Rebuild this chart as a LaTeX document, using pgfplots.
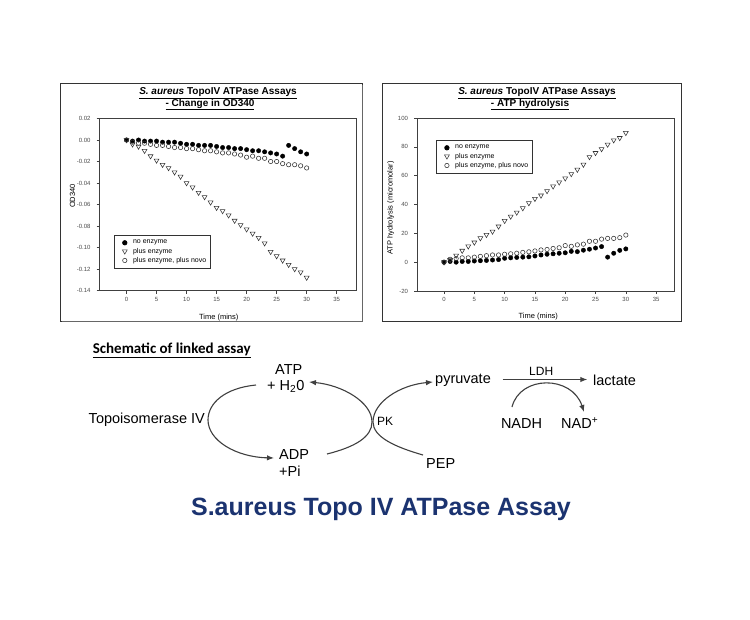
\documentclass[border=0pt]{standalone}
\usepackage{pgfplots}
\pgfplotsset{compat=1.18}
\usepackage{fontspec}
\setmainfont{Liberation Sans}
\newfontfamily\carlito{Carlito}
\usetikzlibrary{arrows.meta}
\definecolor{navy}{HTML}{1B3370}
\newcommand{\fs}[1]{\fontsize{#1}{#1}\selectfont}

\pgfplotstableread{
t noenz plusenz novo
0  0.000  0.000  0.000
1 -0.001 -0.004 -0.002
2  0.000 -0.006 -0.003
3 -0.001 -0.010 -0.003
4 -0.001 -0.015 -0.004
5 -0.001 -0.019 -0.005
6 -0.002 -0.023 -0.005
7 -0.002 -0.026 -0.006
8 -0.002 -0.030 -0.007
9 -0.003 -0.034 -0.007
10 -0.004 -0.040 -0.008
11 -0.004 -0.044 -0.008
12 -0.005 -0.049 -0.009
13 -0.005 -0.053 -0.010
14 -0.005 -0.058 -0.010
15 -0.006 -0.063 -0.011
16 -0.007 -0.066 -0.012
17 -0.007 -0.070 -0.012
18 -0.008 -0.075 -0.013
19 -0.008 -0.079 -0.014
20 -0.009 -0.083 -0.016
21 -0.010 -0.087 -0.015
22 -0.010 -0.091 -0.017
23 -0.011 -0.096 -0.017
24 -0.012 -0.104 -0.020
25 -0.013 -0.108 -0.020
26 -0.015 -0.112 -0.022
27 -0.005 -0.116 -0.023
28 -0.008 -0.120 -0.023
29 -0.011 -0.123 -0.024
30 -0.013 -0.128 -0.026
}\odtable

\pgfplotstableread{
t noenz plusenz novo
0  0.0  0.0  0.0
1  0.5  1.6  2.0
2  0.0  4.6  2.5
3  0.5  8.0  3.0
4  0.5 11.0  3.0
5  0.8 13.7  3.5
6  1.0 16.7  4.0
7  1.2 19.0  4.5
8  1.5 21.3  5.0
9  1.8 24.8  5.0
10 2.7 28.7  5.5
11 3.0 31.7  5.8
12 3.3 34.5  6.2
13 3.5 37.5  6.8
14 3.7 41.0  7.2
15 4.3 44.0  7.8
16 5.0 46.3  8.5
17 5.5 49.4  8.8
18 5.8 52.6  9.5
19 6.2 55.4 10.0
20 6.5 58.2 11.5
21 7.5 61.2 11.0
22 7.3 64.2 12.0
23 8.3 67.7 12.5
24 9.0 73.0 14.5
25 9.8 75.8 14.5
26 10.8 78.5 16.0
27 3.5 81.6 16.5
28 6.2 84.6 16.5
29 8.2 86.2 17.0
30 9.2 89.7 18.8
}\atptable

\pgfplotsset{
  sigma/.style={
    scale only axis, width=257pt, height=172pt, anchor=south west,
    axis line style={black!75, line width=0.8pt},
    tick pos=left, tick align=outside, major tick length=3pt,
    tick style={black!75, line width=0.6pt},
    ticklabel style={font=\fs{6}, text=black!70},
    yticklabel style={xshift=-2.5pt},
    /pgf/number format/assume math mode=true,
    xmin=-4.5, xmax=38.3, xtick={0,5,...,35},
    label style={font=\fs{7.5}},
    legend cell align=left,
    legend image code/.code={\path[draw=none,fill=none] (0pt,-2pt) rectangle (15pt,2pt);\draw[##1] plot coordinates {(8pt,0pt)};},
    legend style={font=\fs{7}, draw=black!80, line width=0.8pt,
      inner xsep=2.5pt, inner ysep=3.5pt, row sep=0pt,
      nodes={inner sep=1.3pt}},
  },
  m1/.style={only marks, mark=*, mark size=2.2pt, black, mark options={fill=black}},
  m2/.style={only marks, mark=triangle, mark size=2.8pt, black!80, mark options={rotate=180, line width=0.55pt}},
  m3/.style={only marks, mark=o, mark size=2.2pt, black!80, mark options={line width=0.55pt}},
}

\begin{document}
\begin{tikzpicture}
\useasboundingbox (0pt,0pt) rectangle (750pt,-619pt);
\fill[white] (0pt,0pt) rectangle (750pt,-619pt);

% panel frames
\draw[black!80, line width=0.9pt] (60.7pt,-83.3pt) rectangle (362.7pt,-321.7pt);
\draw[black!60, line width=0.7pt] (362.7pt,-84.5pt) -- (362.7pt,-321.7pt) -- (61.5pt,-321.7pt);
\draw[black!80, line width=0.9pt] (382.3pt,-83.3pt) rectangle (681.7pt,-321.7pt);

% left axis
\begin{axis}[sigma, at={(99.5pt,-290.5pt)},
  ymin=-0.14, ymax=0.02,
  ytick={-0.14,-0.12,-0.10,-0.08,-0.06,-0.04,-0.02,0,0.02},
  yticklabels={-0.14,-0.12,-0.10,-0.08,-0.06,-0.04,-0.02,0.00,0.02},
  xlabel={Time (mins)}, ylabel={OD340},
  x label style={at={(axis description cs:0.464,-0.157)}, anchor=center},
  y label style={at={(axis description cs:-0.105,0.549)}, anchor=center},
  legend style={at={(axis description cs:0.056,0.323)}, anchor=north west},
]
\addplot[m1] table[x=t,y=noenz] {\odtable};
\addplot[m2] table[x=t,y=plusenz] {\odtable};
\addplot[m3] table[x=t,y=novo] {\odtable};
\legend{no enzyme, plus enzyme, {plus enzyme, plus novo}}
\end{axis}

% right axis
\begin{axis}[sigma, at={(417pt,-291pt)}, height=173pt,
  xmin=-4.46, xmax=37.95,
  ymin=-20, ymax=100, ytick={-20,0,...,100},
  xlabel={Time (mins)}, ylabel={ATP hydrolysis (micromolar)},
  x label style={at={(axis description cs:0.472,-0.145)}, anchor=center},
  y label style={at={(axis description cs:-0.102,0.48)}, anchor=center},
  legend style={at={(axis description cs:0.074,0.873)}, anchor=north west},
]
\addplot[m1] table[x=t,y=noenz] {\atptable};
\addplot[m2] table[x=t,y=plusenz] {\atptable};
\addplot[m3] table[x=t,y=novo] {\atptable};
\legend{no enzyme, plus enzyme, {plus enzyme, plus novo}}
\end{axis}

\begin{scope}[x=1pt, y=-1pt]
% chart titles
\node[font=\fs{10}\bfseries, inner sep=0] at (218,93) {\underline{\textit{S. aureus} TopoIV ATPase Assays}};
\node[font=\fs{10}\bfseries, inner sep=0] at (210,104.5) {\underline{- Change in OD340}};
\node[font=\fs{10}\bfseries, inner sep=0] at (537,93) {\underline{\textit{S. aureus} TopoIV ATPase Assays}};
\node[font=\fs{10}\bfseries, inner sep=0] at (530,104.5) {\underline{- ATP hydrolysis}};

% schematic
\node[font=\carlito\fs{15}\bfseries, anchor=west, inner sep=0] at (92.6,350) {\underline{Schematic of linked assay}};
\begin{scope}[every node/.style={font=\fs{14.5}, anchor=west, inner sep=0}]
\node at (275,370) {ATP};
\node at (267,386.7) {+ H\textsubscript{2}0};
\node[anchor=east] at (205,420) {Topoisomerase IV};
\node at (279,455) {ADP};
\node at (279,471.7) {+Pi};
\node[font=\fs{12}] at (377,421.7) {PK};
\node at (435,380) {pyruvate};
\node[font=\fs{12}] at (529,371) {LDH};
\node at (593,380) {lactate};
\node at (500.8,424) {NADH};
\node at (561,423) {NAD\textsuperscript{+}};
\node at (426,464) {PEP};
\end{scope}
\begin{scope}[draw=black!75, line width=1.1pt, -{Latex[length=7pt,width=5.5pt]}]
\draw (256,385) .. controls (225,388) and (208,403) .. (208,420) .. controls (208,440) and (235,457) .. (274,458);
\draw (327,454) .. controls (355,447) and (372,437) .. (372,422) .. controls (372,402) and (342,385) .. (309,382);
\draw (423,455) .. controls (395,447) and (373,437) .. (373,422) .. controls (373,402) and (400,385) .. (433,382);
\draw (502.7,379.5) -- (587.3,379.5);
\draw (512,407) .. controls (520,375) and (572,375) .. (584,412);
\end{scope}
\node[font=\fs{25}\bfseries, text=navy, inner sep=0] at (381,509) {S.aureus Topo IV ATPase Assay};
\end{scope}
\end{tikzpicture}
\end{document}
